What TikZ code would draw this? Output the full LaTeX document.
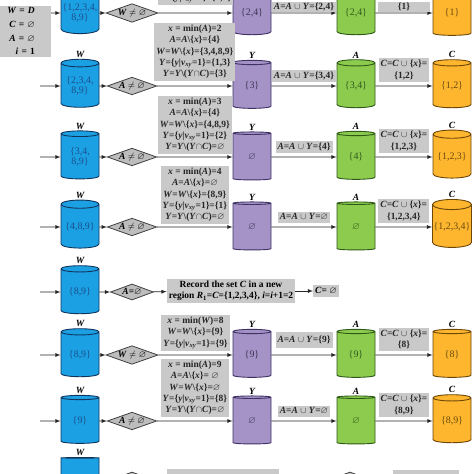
\documentclass[tikz,border=0pt]{standalone}
\usepackage{amssymb}
\usepackage{fontspec}
\setmainfont{Liberation Serif}
\usepackage{tikz}
\usetikzlibrary{shapes.geometric}

\definecolor{wfill}{HTML}{1AA0E3}
\definecolor{wline}{HTML}{12355E}
\definecolor{wtext}{HTML}{1E4F8C}
\definecolor{yfill}{HTML}{A593C7}
\definecolor{yline}{HTML}{3E3163}
\definecolor{ytext}{HTML}{3B3352}
\definecolor{afill}{HTML}{8DCB4E}
\definecolor{aline}{HTML}{2D5A17}
\definecolor{atext}{HTML}{2E5A1C}
\definecolor{cfill}{HTML}{FDB62E}
\definecolor{cline}{HTML}{6E4608}
\definecolor{ctext}{HTML}{6B4A10}
\definecolor{bgray}{HTML}{C9C9C9}
\definecolor{dgray}{HTML}{BDBDBD}

\newcommand{\vA}{\textit{A}}
\newcommand{\vW}{\textit{W}}
\newcommand{\vY}{\textit{Y}}
\newcommand{\vC}{\textit{C}}
\newcommand{\vx}{\textit{x}}
\newcommand{\vxy}{\textit{v}\textsubscript{\textit{xy}}}
\newcommand{\es}{$\varnothing$}
\newcommand{\bsl}{\textbackslash}

\tikzset{
  lab/.style={font=\fontsize{9.5}{10}\selectfont\bfseries\itshape, inner sep=1bp},
  cyl/.style={cylinder, shape border rotate=90, aspect=0.26, draw, line width=0.9bp,
    minimum width=38bp, minimum height=48bp, inner sep=1bp, align=center,
    font=\fontsize{10}{10.5}\selectfont, label distance=2bp},
  wbody/.style={cyl, fill=wfill, draw=wline, text=wtext},
  ybody/.style={cyl, fill=yfill, draw=yline, text=ytext},
  abody/.style={cyl, fill=afill, draw=aline, text=atext},
  cbody/.style={cyl, fill=cfill, draw=cline, text=ctext},
  wcyl/.style={wbody, label={[lab]above:\vW}},
  ycyl/.style={ybody, label={[lab]above:\vY}},
  acyl/.style={abody, label={[lab]above:\vA}},
  ccyl/.style={cbody, label={[lab]above:\vC}},
  cond/.style={diamond, draw=black!75, fill=dgray, aspect=2.8, inner sep=0.2bp,
    minimum width=43bp, minimum height=16bp, line width=0.8bp,
    font=\fontsize{9.5}{10}\selectfont\bfseries},
  info/.style={fill=bgray, align=center, inner sep=2bp,
    font=\fontsize{9.5}{11.3}\selectfont\bfseries},
  arr/.style={-latex, line width=0.8bp, black!85}
}

\begin{document}
\begin{tikzpicture}[x=1bp,y=-1bp]
  \useasboundingbox (0,0) rectangle (474,474);
  \clip (0,0) rectangle (474,474);
  % initial values
  \node[info, anchor=south east, align=right, text width=40bp, inner xsep=16bp,
    font=\fontsize{9.5}{13.7}\selectfont\bfseries] (init) at (51,57)
    {\vW{} = \textit{D}\\ \vC{} = \es\\ \vA{} = \es\\ \textit{i} = 1};
  % row 1 (top cut off)
  \node[wbody] (w1) at (80,13) {\{1,2,3,4,\\8,9\}};
  \node[cond] (d1) at (132,13) {\vW{} $\neq$ \es};
  \node[ybody] (y1) at (252,13) {\{2,4\}};
  \node[abody] (a1) at (356,13) {\{2,4\}};
  \node[cbody] (c1) at (452,13) {\{1\}};
  \draw[arr] (init.east |- w1) -- (w1);
  \draw[arr] (w1) -- (d1);
  \draw[arr] (d1) -- node[info, above=8bp] {\vY=\{\textit{y}|\vxy=1\}=\{2,4\}} (y1);
  \draw[arr] (y1) -- node[info, above=1bp, inner ysep=1bp] {\vA=\vA{} $\cup$ \vY=\{2,4\}} (a1);
  \draw[arr] (a1) -- node[info, above=1bp, inner ysep=1bp, minimum width=52bp] {\{1\}} (c1);
  % row 2
  \coordinate (in2) at (40,86);
  \node[wcyl] (w2) at (80,86) {\{2,3,4,\\8,9\}};
  \node[cond] (d2) at (132,86) {\vA{} $\neq$ \es};
  \node[ycyl] (y2) at (252,86) {\{3\}};
  \node[acyl] (a2) at (356,86) {\{3,4\}};
  \node[ccyl] (c2) at (452,86) {\{1,2\}};
  \draw[arr] (in2) -- (w2);
  \draw[arr] (w2) -- (d2);
  \draw[arr] (d2) -- node[info, above=5bp] {\vx{} = min(\vA)=2\\ \vA=\vA\bsl\{\vx\}=\{4\}\\
    \vW=\vW\bsl\{\vx\}=\{3,4,8,9\}\\ \vY=\{\textit{y}|\vxy=1\}=\{1,3\}\\
    \vY=\vY\bsl(\vY$\cap$\vC)=\{3\}} (y2);
  \draw[arr] (y2) -- node[info, above=4bp] {\vA=\vA{} $\cup$ \vY=\{3,4\}} (a2);
  \draw[arr] (a2) -- node[info, above=4bp] {\vC=\vC{} $\cup$ \{\vx\}=\\\{1,2\}} (c2);
  % row 3
  \coordinate (in3) at (40,157);
  \node[wcyl] (w3) at (80,157) {\{3,4,\\8,9\}};
  \node[cond] (d3) at (132,157) {\vA{} $\neq$ \es};
  \node[ycyl] (y3) at (252,157) {\es};
  \node[acyl] (a3) at (356,157) {\{4\}};
  \node[ccyl] (c3) at (452,157) {\{1,2,3\}};
  \draw[arr] (in3) -- (w3);
  \draw[arr] (w3) -- (d3);
  \draw[arr] (d3) -- node[info, above=3bp] {\vx{} = min(\vA)=3\\ \vA=\vA\bsl\{\vx\}=\{4\}\\
    \vW=\vW\bsl\{\vx\}=\{4,8,9\}\\ \vY=\{\textit{y}|\vxy=1\}=\{2\}\\
    \vY=\vY\bsl(\vY$\cap$\vC)=\es} (y3);
  \draw[arr] (y3) -- node[info, above=4bp] {\vA=\vA{} $\cup$ \vY=\{4\}} (a3);
  \draw[arr] (a3) -- node[info, above=4bp] {\vC=\vC{} $\cup$ \{\vx\}=\\\{1,2,3\}} (c3);
  % row 4
  \coordinate (in4) at (40,227);
  \node[wcyl] (w4) at (80,227) {\{4,8,9\}};
  \node[cond] (d4) at (132,227) {\vA{} $\neq$ \es};
  \node[ycyl] (y4) at (252,227) {\es};
  \node[acyl] (a4) at (356,227) {\es};
  \node[ccyl] (c4) at (452,227) {\{1,2,3,4\}};
  \draw[arr] (in4) -- (w4);
  \draw[arr] (w4) -- (d4);
  \draw[arr] (d4) -- node[info, above=3bp] {\vx{} = min(\vA)=4\\ \vA=\vA\bsl\{\vx\}=\es\\
    \vW=\vW\bsl\{\vx\}=\{8,9\}\\ \vY=\{\textit{y}|\vxy=1\}=\{1\}\\
    \vY=\vY\bsl(\vY$\cap$\vC)=\es} (y4);
  \draw[arr] (y4) -- node[info, above=4bp] {\vA=\vA{} $\cup$ \vY=\es} (a4);
  \draw[arr] (a4) -- node[info, above=4bp] {\vC=\vC{} $\cup$ \{\vx\}=\\\{1,2,3,4\}} (c4);
  % row 5
  \coordinate (in5) at (40,292);
  \node[wcyl] (w5) at (80,292) {\{8,9\}};
  \node[cond] (d5) at (132,292) {\vA=\es};
  \node[info] (rec5) at (231,291) {Record the set \vC{} in a new\\
    region \textit{R}\textsubscript{1}=\vC=\{1,2,3,4\}, \textit{i}=\textit{i}+1=2};
  \node[info] (cz5) at (326,291) {\vC= \es};
  \draw[arr] (in5) -- (w5);
  \draw[arr] (w5) -- (d5);
  \draw[arr] (d5) -- (rec5);
  \draw[arr] (rec5) -- (cz5);
  % row 6
  \coordinate (in6) at (40,355);
  \node[wcyl] (w6) at (80,355) {\{8,9\}};
  \node[cond] (d6) at (132,355) {\vW{} $\neq$ \es};
  \node[ycyl] (y6) at (252,355) {\{9\}};
  \node[acyl] (a6) at (356,355) {\{9\}};
  \node[ccyl] (c6) at (452,355) {\{8\}};
  \draw[arr] (in6) -- (w6);
  \draw[arr] (w6) -- (d6);
  \draw[arr] (d6) -- node[info, above=4bp] {\vx{} = min(\vW)=8\\ \vW=\vW\bsl\{\vx\}=\{9\}\\
    \vY=\{\textit{y}|\vxy=1\}=\{9\}} (y6);
  \draw[arr] (y6) -- node[info, above=7bp, inner ysep=4bp] {\vA=\vA{} $\cup$ \vY=\{9\}} (a6);
  \draw[arr] (a6) -- node[info, above=4bp] {\vC=\vC{} $\cup$ \{\vx\}=\\\{8\}} (c6);
  % row 7
  \coordinate (in7) at (40,421);
  \node[wcyl] (w7) at (80,421) {\{9\}};
  \node[cond] (d7) at (132,421) {\vA{} $\neq$ \es};
  \node[ycyl] (y7) at (252,421) {\es};
  \node[acyl] (a7) at (356,421) {\es};
  \node[ccyl] (c7) at (452,421) {\{8,9\}};
  \draw[arr] (in7) -- (w7);
  \draw[arr] (w7) -- (d7);
  \draw[arr] (d7) -- node[info, above=4bp] {\vx{} = min(\vA)=9\\ \vA=\vA\bsl\{\vx\}= \es\\
    \vW=\vW\bsl\{\vx\}=\es\\ \vY=\{\textit{y}|\vxy=1\}=\{8\}\\
    \vY=\vY\bsl(\vY$\cap$\vC)=\es} (y7);
  \draw[arr] (y7) -- node[info, above=4bp] {\vA=\vA{} $\cup$ \vY=\es} (a7);
  \draw[arr] (a7) -- node[info, above=4bp] {\vC=\vC{} $\cup$ \{\vx\}=\\\{8,9\}} (c7);
  % row 8 (bottom cut off)
  \coordinate (in8) at (40,482);
  \node[wcyl] (w8) at (80,482) {};
  \node[cond] (d8) at (132,480) {};
  \node[info, anchor=north, minimum width=112bp, minimum height=24bp] (rec8) at (223,469) {};
  \node[cond] (e8) at (350,480) {};
  \node[info, anchor=north, minimum width=66bp, minimum height=24bp] (end8) at (426,470) {};
  \draw[arr] (in8) -- (w8);
  \draw[arr] (w8) -- (d8);
\end{tikzpicture}
\end{document}
